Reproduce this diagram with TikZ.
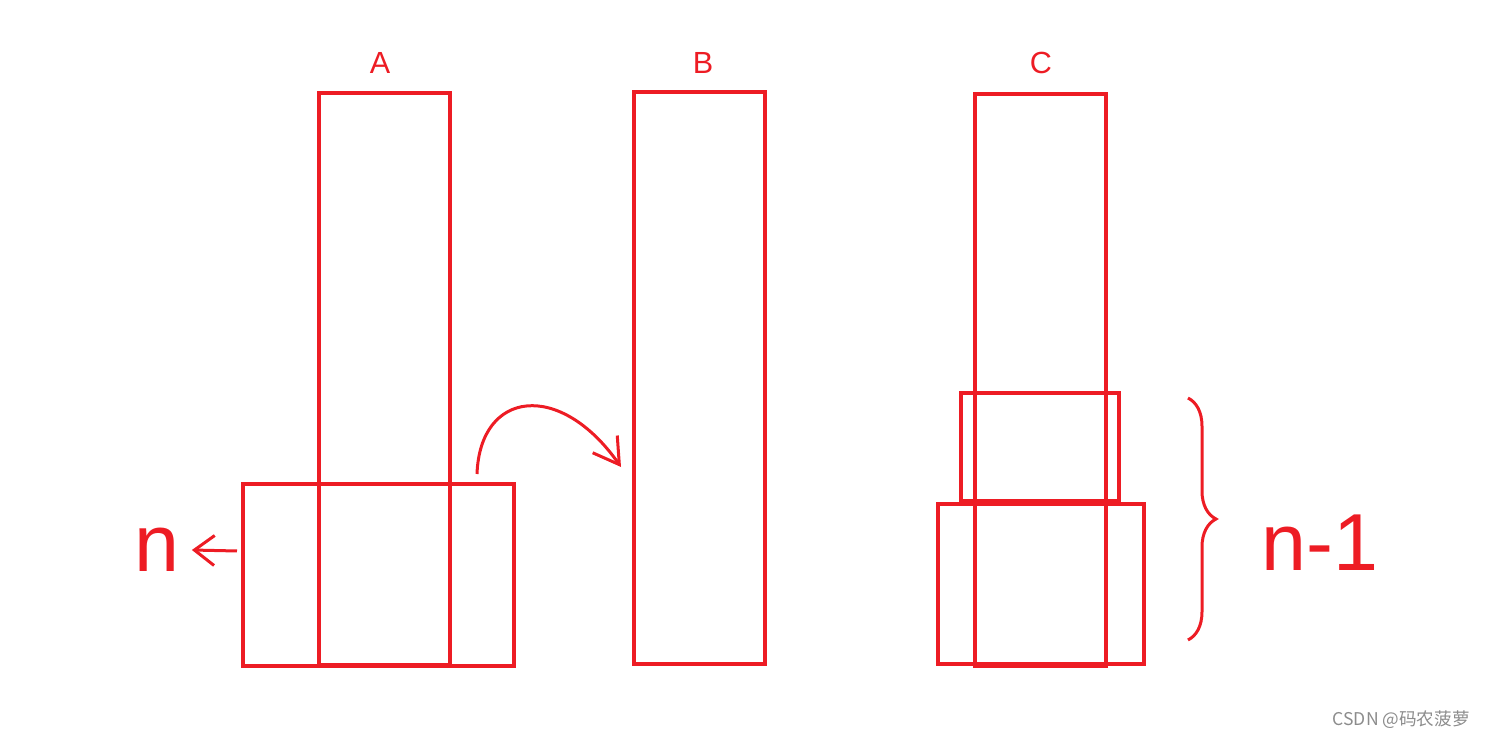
\documentclass[tikz,border=0pt]{standalone}
\usepackage{fontspec}
\newfontfamily\labelfont{Liberation Sans}
\newfontfamily\cjkfont{Noto Sans CJK SC}
\usetikzlibrary{arrows.meta,decorations.pathreplacing}
\definecolor{paintred}{RGB}{237,28,36}
\tikzset{
  bar/.style={draw=paintred, line width=0.04cm, inner sep=0pt, rectangle},
  rodname/.style={text=paintred, font=\labelfont\fontsize{8.7}{9}\selectfont},
  scrawl/.style={text=paintred, font=\labelfont\fontsize{23}{23}\selectfont}
}
\begin{document}
\begin{tikzpicture}
        \useasboundingbox (0,0) rectangle (14.88,-7.39);
        % rods
        \node[bar, minimum width=1.31cm, minimum height=5.72cm] (A) at (3.845,-3.79) {};
        \node[bar, minimum width=1.31cm, minimum height=5.72cm] (B) at (6.995,-3.78) {};
        \node[bar, minimum width=1.31cm, minimum height=5.72cm] (C) at (10.405,-3.80) {};
        % disks
        \node[bar, minimum width=2.71cm, minimum height=1.82cm] (bottom) at (3.785,-5.75) {};
        \node[bar, minimum width=1.58cm, minimum height=1.08cm] (small) at (10.40,-4.47) {};
        \node[bar, minimum width=2.06cm, minimum height=1.60cm] (large) at (10.41,-5.84) {};
        % rod names
        \node[rodname] (nameA) at (3.80,-0.63) {A};
        \node[rodname] (nameB) at (7.03,-0.63) {B};
        \node[rodname] (nameC) at (10.41,-0.63) {C};
        % move of the bottom disk
        \coordinate (lift) at (4.77,-4.74);
        \coordinate (drop) at (6.21,-4.67);
        \draw[paintred, line width=0.03cm, -{Straight Barb[length=0.25cm, width=0.3cm]}]
            (lift) .. controls (4.80,-3.90) and (5.60,-3.80) .. (drop);
        % n disks
        \node[scrawl] (n) at (1.57,-5.50) {n};
        \coordinate (pointer) at (2.37,-5.51);
        \draw[paintred, line width=0.03cm, -{Straight Barb[length=0.2cm, width=0.3cm]}] (pointer) -- (n.east);
        % n-1 disks
        \coordinate (braceTop) at (11.88,-3.98);
        \coordinate (braceBottom) at (11.88,-6.40);
        \draw[paintred, line width=0.03cm, decorate, decoration={brace, amplitude=0.28cm}] (braceTop) -- (braceBottom);
        \node[scrawl] (rest) at (13.20,-5.43) {n-1};
        % watermark
        \node[text=black!45, font=\cjkfont\fontsize{5}{6}\selectfont, anchor=east] (mark) at (14.82,-7.20) {CSDN @码农菠萝};
    \end{tikzpicture}
\end{document}
